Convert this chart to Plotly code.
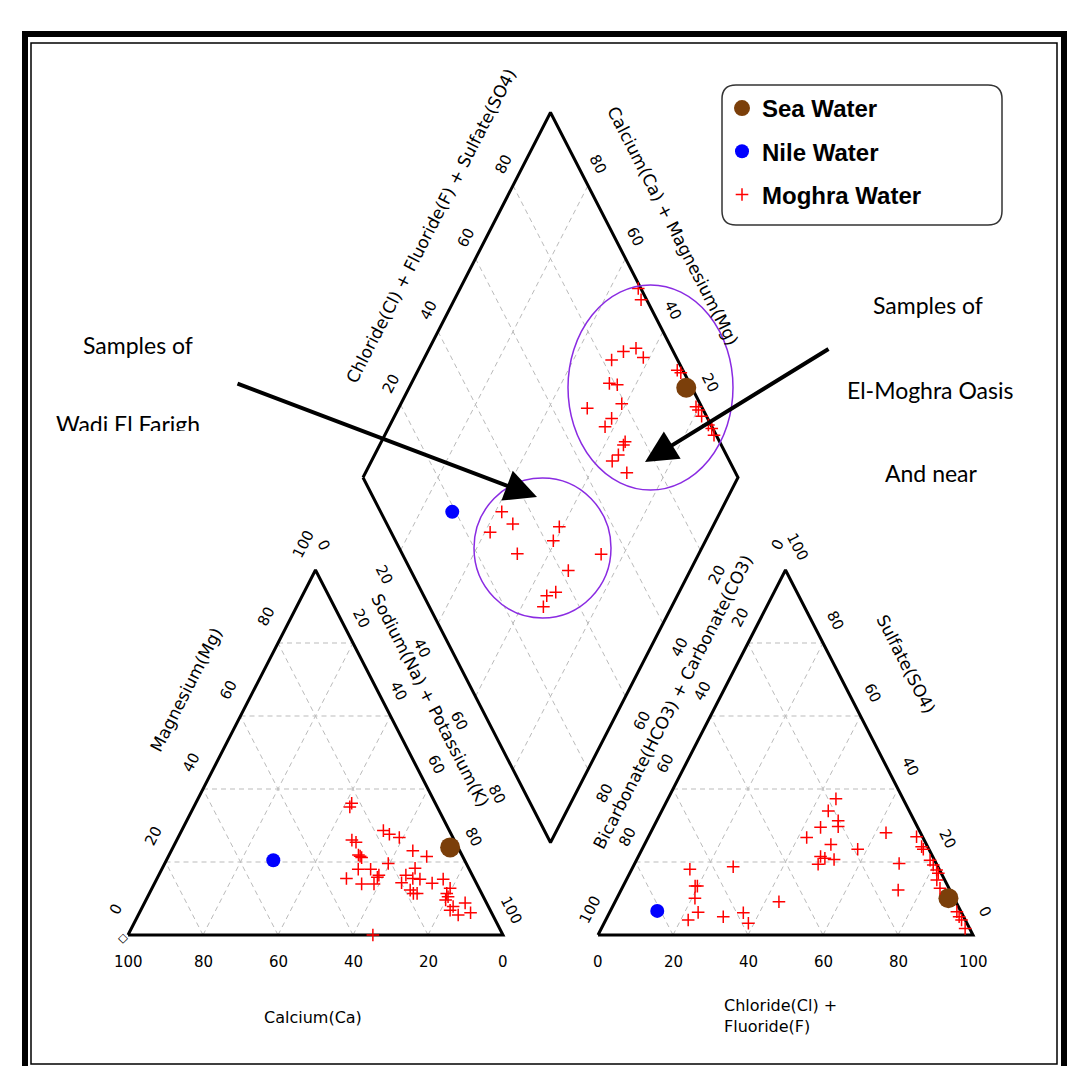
import plotly.graph_objects as go

# ---------------- data (percent of meq/l) ----------------
# cation triangle (left): Moghra samples
moghra_ca = [22.3, 23.3, 17.6, 16.5, 14.3, 27.3, 26.5, 12.5, 9.6, 27.6, 27.1, 27.3, 20.8, 14.3,
             29.6, 26.3, 24.9, 25.6, 34.0, 16.3, 14.5, 8.3, 19.9, 11.8, 30.7, 27.4, 18.6, 18.2,
             17.2, 7.7, 9.3, 9.4, 10.5, 5.7, 9.4, 10.7, 9.2, 5.6, 34.7, 17.7]
moghra_mg = [36.1, 35.1, 28.6, 27.6, 26.7, 26.0, 25.4, 23.1, 21.5, 21.9, 21.2, 21.6, 19.6, 18.3,
             18.0, 18.0, 16.4, 15.8, 15.5, 15.5, 15.3, 15.3, 14.3, 14.2, 14.0, 14.0, 12.3, 11.4,
             11.4, 12.8, 11.4, 10.5, 9.6, 8.8, 7.8, 6.8, 5.5, 6.1, 0.0, 16.4]
# anion triangle (right): Moghra samples
moghra_cl = [44.8, 44.4, 48.4, 49.2, 44.6, 42.3, 62.8, 49.7, 57.5, 48.6, 50.0, 52.6, 49.0, 70.5,
             73.9, 71.5, 74.2, 75.0, 78.3, 79.8, 81.4, 82.3, 82.8, 84.8, 92.5, 93.8, 97.0, 15.5,
             26.7, 19.2, 19.8, 20.8, 23.6, 22.0, 30.9, 35.7, 38.5, 43.7, 94.9]
moghra_so4 = [37.3, 34.0, 31.3, 29.7, 29.5, 26.7, 28.0, 24.8, 23.5, 21.5, 21.0, 20.7, 19.4, 19.6,
              12.3, 26.9, 24.2, 23.5, 20.5, 19.2, 17.8, 16.9, 15.1, 12.8, 6.4, 5.0, 1.8, 18.0,
              18.7, 13.4, 13.4, 10.1, 6.2, 4.1, 5.0, 6.1, 3.2, 9.1, 4.1]
# diamond: Na+K and Cl+F+SO4 percentages
moghra_nak_d = [47.5, 49.8, 55.1, 52.2, 58.3, 50.2, 52.8, 55.1, 58.9, 50.3, 58.2, 57.6, 65.0,
                65.0, 65.0, 64.2, 69.7, 69.1, 70.4, 79.1, 80.2, 81.9, 84.9, 86.3, 87.8,
                41.7, 46.3, 41.4, 59.1, 59.4, 51.6, 74.0, 67.5, 67.1, 65.2, 65.8]
moghra_clso4_d = [99.3, 98.5, 90.5, 86.7, 91.2, 82.4, 78.6, 80.5, 79.1, 69.3, 74.4, 71.5, 74.8,
                  73.9, 71.2, 68.7, 71.0, 98.5, 99.1, 98.5, 98.7, 98.7, 99.3, 99.7, 99.4,
                  32.3, 33.6, 26.4, 45.6, 42.1, 30.7, 53.0, 42.0, 35.7, 32.8, 30.4]

sea_ca, sea_mg, sea_cl, sea_so4 = [2.1], [24.0], [88.4], [10.1]
nile_ca, nile_mg, nile_cl, nile_so4 = [51.0], [20.5], [12.5], [6.6]

tick_values = [0, 20, 40, 60, 80, 100]
grid_values = [20, 40, 60, 80]

# ---------------- geometry (pixel space) ----------------
LX0, BASE_Y = 128.0, 935.0
RX0 = 598.0
W, H = 375.0, 365.0
GAP = RX0 - (LX0 + W)
DX0 = LX0 + W + GAP / 2 - W / 2
DY0 = BASE_Y - GAP / W * H - H


def cat_xy(ca, mg):
    u = 100 - ca - mg / 2
    return LX0 + u * W / 100, BASE_Y - mg * H / 100


def an_xy(cl, so4):
    u = cl + so4 / 2
    return RX0 + u * W / 100, BASE_Y - so4 * H / 100


def dia_xy(n, a):
    return DX0 + (n + a) * W / 200, DY0 + (n - a) * H / 100


def pts(fn, A, B):
    xs, ys = [], []
    for p, q in zip(A, B):
        x, y = fn(p, q)
        xs.append(x)
        ys.append(y)
    return xs, ys


fig = go.Figure()

# ---- grid lines ----
gx, gy = [], []


def seg(fn, a0, b0, a1, b1):
    x0, y0 = fn(a0, b0)
    x1, y1 = fn(a1, b1)
    gx.extend([x0, x1, None])
    gy.extend([y0, y1, None])


for k in grid_values:
    seg(cat_xy, 100 - k, k, 0, k)
    seg(cat_xy, k, 0, k, 100 - k)
    seg(cat_xy, 100 - k, 0, 0, 100 - k)
    seg(an_xy, 0, k, 100 - k, k)
    seg(an_xy, k, 0, k, 100 - k)
    seg(an_xy, 100 - k, 0, 0, 100 - k)
    seg(dia_xy, k, 0, k, 100)
    seg(dia_xy, 0, k, 100, k)

fig.add_trace(go.Scatter(x=gx, y=gy, mode="lines", hoverinfo="skip", showlegend=False,
                         line=dict(color="#bbbbbb", width=1, dash="5px,4px")))

# ---- outlines ----
ox, oy = [], []
for fn, corners in [(cat_xy, [(100, 0), (0, 0), (0, 100), (100, 0)]),
                    (an_xy, [(0, 0), (100, 0), (0, 100), (0, 0)]),
                    (dia_xy, [(0, 0), (100, 0), (100, 100), (0, 100), (0, 0)])]:
    for a, b in corners:
        x, y = fn(a, b)
        ox.append(x)
        oy.append(y)
    ox.append(None)
    oy.append(None)
fig.add_trace(go.Scatter(x=ox, y=oy, mode="lines", hoverinfo="skip", showlegend=False,
                         line=dict(color="black", width=3)))


# ---- samples ----
def all_positions(ca, mg, cl, so4, nak=None, clso4=None):
    x1, y1 = pts(cat_xy, ca, mg)
    x2, y2 = pts(an_xy, cl, so4)
    if nak is None:
        nak = [100 - c - m for c, m in zip(ca, mg)]
        clso4 = [c + s for c, s in zip(cl, so4)]
    x3, y3 = pts(dia_xy, nak, clso4)
    return x1 + x2 + x3, y1 + y2 + y3


sx, sy = all_positions(sea_ca, sea_mg, sea_cl, sea_so4)
fig.add_trace(go.Scatter(x=sx, y=sy, mode="markers", name="Sea Water", legendgroup="a",
                         marker=dict(symbol="circle", size=20, color="#7B3F0A")))
nx, ny = all_positions(nile_ca, nile_mg, nile_cl, nile_so4)
fig.add_trace(go.Scatter(x=nx, y=ny, mode="markers", name="Nile Water", legendgroup="b",
                         marker=dict(symbol="circle", size=14, color="#0000FF")))
mx, my = all_positions(moghra_ca, moghra_mg, moghra_cl, moghra_so4, moghra_nak_d, moghra_clso4_d)
fig.add_trace(go.Scatter(x=mx, y=my, mode="markers", name="Moghra Water", legendgroup="c",
                         marker=dict(symbol="cross-thin", size=9, color="red",
                                     line=dict(color="red", width=1.5))))

# ---- tick labels ----
ANG = 62.8
TF = dict(family="DejaVu Sans", size=15, color="black")
ann = []


def lab(x, y, text, angle=0, dx=0, dy=0, font=TF, **kw):
    d = dict(x=x + dx, y=y + dy, xref="x", yref="y", text=text, showarrow=False,
             textangle=angle, font=font)
    d.update(kw)
    ann.append(d)


for v in tick_values:
    x, y = cat_xy(v, 0)
    lab(x, y, str(v), dy=27)
    x, y = cat_xy(100 - v, v)
    lab(x, y, str(v), -ANG, -12, -26)
    x, y = cat_xy(0, 100 - v)
    lab(x, y, str(v), ANG, 8, -25)
    x, y = an_xy(v, 0)
    lab(x, y, str(v), dy=27)
    x, y = an_xy(100 - v, v)
    lab(x, y, str(v), ANG, 12, -23)
    x, y = an_xy(0, 100 - v)
    lab(x, y, str(v), -ANG, -8, -25)

for v in grid_values:
    x, y = dia_xy(0, v)
    lab(x, y, str(v), -ANG, -10, -21)
    x, y = dia_xy(100 - v, 100)
    lab(x, y, str(v), ANG, 10, -22)
    x, y = dia_xy(v, 0)
    lab(x, y, str(v), ANG, -16, 24)
    x, y = dia_xy(100, 100 - v)
    lab(x, y, str(v), -ANG, 16, 24)

x, y = cat_xy(100, 0)
lab(x, y, "◇", dx=-5, dy=2, font=dict(family="DejaVu Sans", size=13, color="black"))

# ---- axis titles ----
TH = dict(family="DejaVu Sans", size=16, color="black")
TR = dict(family="DejaVu Sans", size=17, color="black")
lab(313, 1017, "Calcium(Ca)", font=TH)
lab(722, 1016, "Chloride(Cl) +<br>Fluoride(F)", font=TH, xanchor="left", align="left")
lab(186, 690, "Magnesium(Mg)", -ANG, font=TR)
lab(430, 700, "Sodium(Na) + Potassium(K)", ANG, font=TR)
lab(673, 702, "Bicarbonate(HCO3) + Carbonate(CO3)", -ANG, font=TR)
lab(906, 664, "Sulfate(SO4)", ANG, font=TR)
lab(431, 226, "Chloride(Cl) + Fluoride(F) + Sulfate(SO4)", -ANG, font=TR)
lab(673, 226, "Calcium(Ca) + Magnesium(Mg)", ANG, font=TR)

# ---- callout texts ----
CF = dict(family="Lato", size=23, color="black")
lab(138, 345, "Samples of", font=CF)
lab(928, 305, "Samples of", font=CF)
lab(930, 390, "El-Moghra Oasis", font=CF)
lab(931, 473, "And near", font=CF)

# arrows
ann.append(dict(x=537, y=497, ax=236, ay=383, xref="x", yref="y", axref="x", ayref="y",
                text="", showarrow=True, arrowhead=2, arrowsize=1.6, arrowwidth=4,
                arrowcolor="black", standoff=0))
ann.append(dict(x=645, y=462, ax=830, ay=348, xref="x", yref="y", axref="x", ayref="y",
                text="", showarrow=True, arrowhead=2, arrowsize=1.6, arrowwidth=4,
                arrowcolor="black", standoff=0))

# clipped text (drawn as a text trace so a white box can mask it)
fig.add_trace(go.Scatter(x=[128], y=[427], mode="text", text=["Wadi El Farigh"],
                         textfont=dict(family="Lato", size=23, color="black"),
                         hoverinfo="skip", showlegend=False))

shapes = [
    dict(type="rect", x0=36, x1=232, y0=431, y1=448, fillcolor="white",
         line=dict(width=0), layer="above"),
    # ellipses
    dict(type="circle", x0=568, x1=733, y0=285, y1=490, line=dict(color="#8A2BE2", width=1.5)),
    dict(type="circle", x0=474, x1=611, y0=478, y1=618, line=dict(color="#8A2BE2", width=1.5)),
    # frame
    dict(type="rect", x0=25, x1=1064, y0=34, y1=1080, line=dict(color="black", width=6)),
    dict(type="rect", x0=31, x1=1057, y0=43, y1=1064, line=dict(color="black", width=1.5)),
    # legend box
    dict(type="path",
         path="M 736,85 L 988,85 Q 1002,85 1002,99 L 1002,211 Q 1002,225 988,225 "
              "L 736,225 Q 722,225 722,211 L 722,99 Q 722,85 736,85 Z",
         line=dict(color="#333333", width=1.5)),
]

fig.update_layout(
    width=1071, height=1066,
    margin=dict(l=0, r=0, t=0, b=0),
    paper_bgcolor="white", plot_bgcolor="white",
    xaxis=dict(range=[0, 1071], visible=False, fixedrange=True),
    yaxis=dict(range=[1066, 0], visible=False, fixedrange=True),
    annotations=ann, shapes=shapes,
    showlegend=True,
    legend=dict(x=722 / 1071, y=1 - 86 / 1066, xanchor="left", yanchor="top",
                bgcolor="rgba(0,0,0,0)", borderwidth=0, tracegroupgap=9,
                font=dict(family="Liberation Sans", size=24, color="black", weight="bold")),
)

fig.write_html("out.html", config={"displayModeBar": False},
               post_script="document.body.style.margin='0px';")
